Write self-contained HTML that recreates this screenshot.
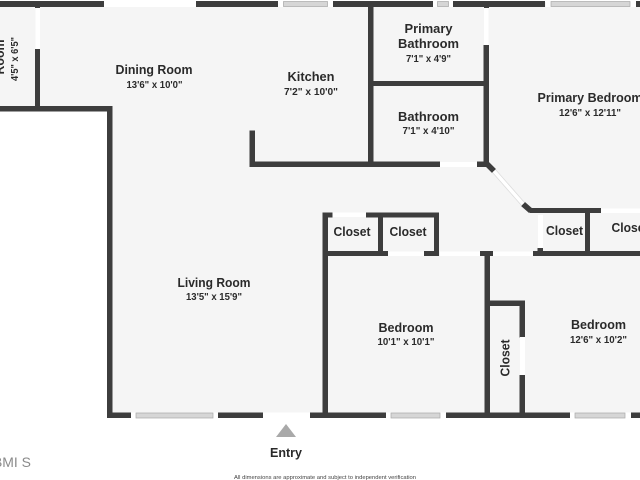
<!DOCTYPE html>
<html><head><meta charset="utf-8"><style>
html,body{margin:0;padding:0;background:#fff}
svg{display:block}
text{font-family:"Liberation Sans",sans-serif;fill:#2b2b2b;text-anchor:middle;font-weight:bold}
.n{font-size:12.5px}
.d{font-size:10px}
</style></head><body>
<svg width="640" height="480" viewBox="0 0 640 480" xmlns="http://www.w3.org/2000/svg">
<defs><filter id="b" x="-5%" y="-5%" width="110%" height="110%"><feGaussianBlur stdDeviation="0.35"/></filter></defs>
<rect width="640" height="480" fill="#fff"/>
<g filter="url(#b)">
<polygon points="0,2 640,2 640,416 110,416 110,108 0,108" fill="#f5f5f5"/>
<g fill="#3c3c3c">
<rect x="0" y="1" width="104" height="6"/>
<rect x="196" y="1" width="82" height="6"/>
<rect x="333" y="1" width="100" height="6"/>
<rect x="453" y="1" width="92" height="6"/>
<rect x="636" y="1" width="4" height="6"/>
<rect x="35" y="1" width="5" height="7"/>
<rect x="35" y="49" width="5" height="60"/>
<rect x="0" y="106" width="112.500" height="5.500"/>
<rect x="107" y="106" width="5.500" height="312"/>
<rect x="249.500" y="130.500" width="5.500" height="36.500"/>
<rect x="249.500" y="161.500" width="190.500" height="5.500"/>
<rect x="477" y="161.500" width="12" height="5.500"/>
<rect x="368" y="4" width="5.500" height="163"/>
<rect x="368" y="81" width="121" height="5"/>
<rect x="483.500" y="45" width="5.500" height="122"/>
<rect x="484" y="4" width="5" height="4"/>
<line x1="487" y1="164" x2="494" y2="171" stroke="#3c3c3c" stroke-width="5.500"/>
<line x1="523" y1="204" x2="531" y2="211" stroke="#3c3c3c" stroke-width="5.500"/>
<rect x="530" y="208" width="71" height="5"/>
<rect x="585" y="208" width="5" height="48"/>
<rect x="533" y="251" width="107" height="5"/>
<rect x="537.500" y="248" width="5.500" height="4"/>
<rect x="322.500" y="212.500" width="5.500" height="205.500"/>
<rect x="322.500" y="212.500" width="10" height="5"/>
<rect x="366" y="212.500" width="73" height="5"/>
<rect x="378" y="212.500" width="5" height="43"/>
<rect x="434" y="212.500" width="5" height="43"/>
<rect x="327" y="251" width="61" height="5"/>
<rect x="424" y="251" width="15" height="5"/>
<rect x="480" y="251" width="13" height="5"/>
<rect x="484.500" y="251" width="5.500" height="167"/>
<rect x="485" y="300.500" width="40" height="5.500"/>
<rect x="519.500" y="300.500" width="5.500" height="37"/>
<rect x="519.500" y="375" width="5.500" height="43"/>
<rect x="107" y="412.500" width="24" height="5.500"/>
<rect x="218" y="412.500" width="45" height="5.500"/>
<rect x="310" y="412.500" width="76" height="5.500"/>
<rect x="446" y="412.500" width="124" height="5.500"/>
<rect x="631" y="412.500" width="9" height="5.500"/>
</g>
<line x1="494" y1="171" x2="523" y2="204" stroke="#dcdcdc" stroke-width="5"/>
<line x1="494" y1="171" x2="523" y2="204" stroke="#fff" stroke-width="3.500"/>
<g fill="#fff">
<rect x="104" y="1" width="92" height="6"/>
<rect x="278" y="1" width="5" height="6"/>
<rect x="328" y="1" width="5" height="6"/>
<rect x="433" y="1" width="4" height="6"/>
<rect x="449" y="1" width="4" height="6"/>
<rect x="546" y="1" width="5" height="6"/>
<rect x="630" y="1" width="6" height="6"/>
<rect x="35.500" y="8" width="4.500" height="41"/>
<rect x="484" y="8" width="4.500" height="37"/>
<rect x="440" y="162" width="37" height="5"/>
<rect x="601" y="208.500" width="39" height="4.500"/>
<rect x="538" y="215" width="5" height="33"/>
<rect x="332.500" y="212.500" width="33.500" height="4.500"/>
<rect x="388" y="251.500" width="36" height="4.500"/>
<rect x="440" y="251.500" width="40" height="4.500"/>
<rect x="493" y="251.500" width="40" height="4.500"/>
<rect x="520" y="337" width="5" height="38"/>
<rect x="131" y="412.500" width="5" height="5.500"/>
<rect x="213" y="412.500" width="5" height="5.500"/>
<rect x="263" y="412.500" width="47" height="5.500"/>
<rect x="386" y="412.500" width="5" height="5.500"/>
<rect x="440" y="412.500" width="6" height="5.500"/>
<rect x="570" y="412.500" width="5" height="5.500"/>
<rect x="625" y="412.500" width="6" height="5.500"/>
</g>
<g fill="#d6d6d6" stroke="#a8a8a8" stroke-width="0.7">
<rect x="283.500" y="1.500" width="44" height="5"/>
<rect x="437.500" y="1.500" width="11" height="5"/>
<rect x="551" y="1.500" width="79" height="5"/>
<rect x="136" y="413" width="77" height="5"/>
<rect x="391" y="413" width="49" height="5"/>
<rect x="575" y="413" width="50" height="5"/>
</g>
<polygon points="286,424 296,437 276,437" fill="#a9a9a9"/>
<text class="n" x="154" y="74" textLength="77" lengthAdjust="spacingAndGlyphs">Dining Room</text>
<text class="d" x="154.500" y="88" textLength="56" lengthAdjust="spacingAndGlyphs">13'6" x 10'0"</text>
<text class="n" x="311" y="81" textLength="47" lengthAdjust="spacingAndGlyphs">Kitchen</text>
<text class="d" x="311" y="95" textLength="54" lengthAdjust="spacingAndGlyphs">7'2" x 10'0"</text>
<text class="n" x="428.500" y="33" textLength="48" lengthAdjust="spacingAndGlyphs">Primary</text>
<text class="n" x="428.500" y="48" textLength="61" lengthAdjust="spacingAndGlyphs">Bathroom</text>
<text class="d" x="428.500" y="62" textLength="45" lengthAdjust="spacingAndGlyphs">7'1" x 4'9"</text>
<text class="n" x="428.500" y="121" textLength="61" lengthAdjust="spacingAndGlyphs">Bathroom</text>
<text class="d" x="428.500" y="134" textLength="52" lengthAdjust="spacingAndGlyphs">7'1" x 4'10"</text>
<text class="n" x="590" y="102" textLength="105" lengthAdjust="spacingAndGlyphs">Primary Bedroom</text>
<text class="d" x="590" y="116" textLength="62" lengthAdjust="spacingAndGlyphs">12'6" x 12'11"</text>
<text class="n" x="352" y="236" textLength="37" lengthAdjust="spacingAndGlyphs">Closet</text>
<text class="n" x="408" y="236" textLength="37" lengthAdjust="spacingAndGlyphs">Closet</text>
<text class="n" x="564.500" y="235" textLength="37" lengthAdjust="spacingAndGlyphs">Closet</text>
<text class="n" x="630" y="232" textLength="37" lengthAdjust="spacingAndGlyphs">Closet</text>
<text class="n" x="214" y="287" textLength="73" lengthAdjust="spacingAndGlyphs">Living Room</text>
<text class="d" x="214" y="300" textLength="56" lengthAdjust="spacingAndGlyphs">13'5" x 15'9"</text>
<text class="n" x="406" y="332" textLength="55" lengthAdjust="spacingAndGlyphs">Bedroom</text>
<text class="d" x="406" y="345" textLength="57" lengthAdjust="spacingAndGlyphs">10'1" x 10'1"</text>
<text class="n" x="598.500" y="329" textLength="55" lengthAdjust="spacingAndGlyphs">Bedroom</text>
<text class="d" x="598.500" y="343" textLength="57" lengthAdjust="spacingAndGlyphs">12'6" x 10'2"</text>
<text class="n" transform="translate(509.500,358) rotate(-90)" textLength="37" lengthAdjust="spacingAndGlyphs">Closet</text>
<text class="n" transform="translate(4,57) rotate(-90)" textLength="35" lengthAdjust="spacingAndGlyphs">Room</text>
<text class="d" transform="translate(18,59) rotate(-90)" textLength="44" lengthAdjust="spacingAndGlyphs">4'5" x 6'5"</text>
<text x="286" y="457" style="font-size:13px" textLength="32" lengthAdjust="spacingAndGlyphs">Entry</text>
<text x="12" y="467" style="font-size:14px;font-weight:normal;fill:#8a8a8a" textLength="38" lengthAdjust="spacingAndGlyphs">BMI S</text>
<text x="325" y="479" style="font-size:5px;font-weight:normal;fill:#444" textLength="182" lengthAdjust="spacingAndGlyphs">All dimensions are approximate and subject to independent verification</text>
</g>
</svg>
</body></html>
